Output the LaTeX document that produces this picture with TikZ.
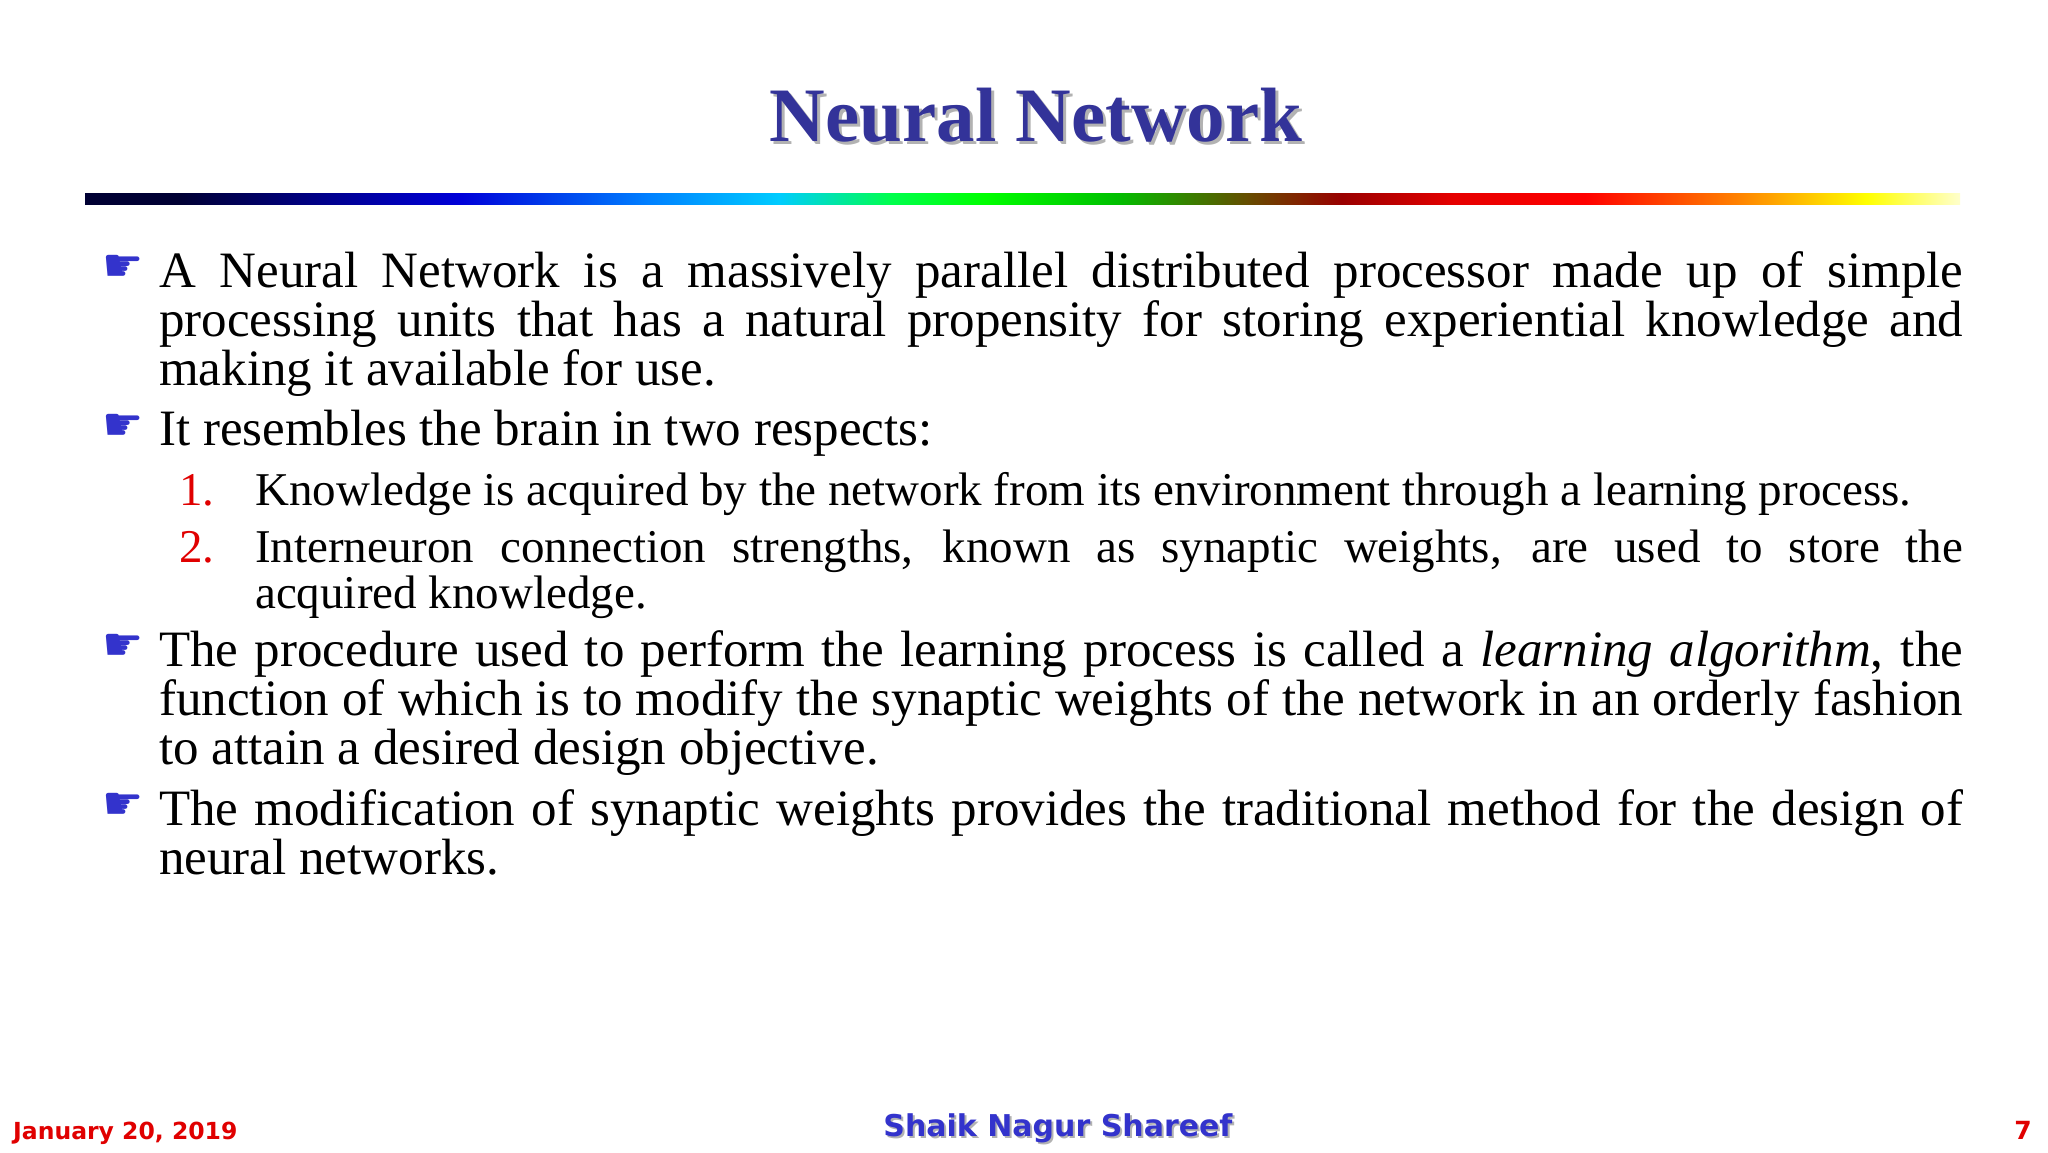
\documentclass[tikz,border=0pt]{standalone}
\usepackage{fontspec}
\setmainfont{Liberation Serif}
\newfontfamily\symf{DejaVu Sans}
\newfontfamily\footf{DejaVu Sans}
\definecolor{ttl}{HTML}{333399}
\definecolor{hand}{HTML}{3333CC}
\definecolor{nred}{HTML}{E00000}
\hyphenpenalty=10000
\pgfdeclarehorizontalshading{rainbow}{100bp}{
color(0bp)=(black!80!blue);
color(25bp)=(black!80!blue);
color(27.5bp)=(black!80!blue);
color(32bp)=(blue!60!black);
color(35bp)=(blue!85!black);
color(40bp)=(blue!50!cyan);
color(43.5bp)=(cyan!80!blue);
color(46.5bp)=(green!70!cyan);
color(49bp)=(green);
color(52.5bp)=(green!75!black);
color(56bp)=(black!50!green!60!red);
color(58.5bp)=(red!60!black);
color(61.5bp)=(red!90!black);
color(65bp)=(red);
color(69bp)=(orange);
color(72.5bp)=(yellow);
color(75bp)=(yellow!20!white);
color(100bp)=(yellow!20!white)}
\tikzset{
 para/.style={anchor=north west,inner sep=0pt,align=justify,font=\fontsize{51}{49}\selectfont},
 sub/.style={anchor=north west,inner sep=0pt,align=justify,font=\fontsize{47}{46}\selectfont},
 num/.style={anchor=base west,inner sep=0pt,text=nred,font=\fontsize{47}{46}\selectfont},
 bul/.style={anchor=base west,inner sep=0pt,text=hand,font=\symf\fontsize{46}{46}\selectfont}
}
\begin{document}
\begin{tikzpicture}[x=1pt,y=1pt]
\useasboundingbox (0,0) rectangle (2048,-1152);
\fill[white] (0,0) rectangle (2048,-1152);
% title
\node[anchor=base,inner sep=0pt,text=black!30,font=\bfseries\fontsize{77}{77}\selectfont] (tsh) at (1039,-144) {Neural Network};
\node[anchor=base,inner sep=0pt,text=ttl,font=\bfseries\fontsize{77}{77}\selectfont] (title) at (1036,-141) {Neural Network};
\shade[shading=rainbow] (85,-193) rectangle (1960,-204);
% bullets
\node[bul] (b1) at (102,-281) {☛};
\node[para,text width=1804pt] (p1) at (159,-247) {\rule{0pt}{40pt}A Neural Network is a massively parallel distributed processor made up of simple\linebreak processing units that has a natural propensity for storing experiential knowledge and\linebreak making it available for use.};
\node[bul] (b2) at (102,-440) {☛};
\node[para,text width=1804pt] (p2) at (159,-405) {\rule{0pt}{40pt}It resembles the brain in two respects:};
\node[num] (n1) at (179,-505) {1.};
\node[sub,text width=1708pt] (s1) at (255,-469) {\rule{0pt}{36pt}Knowledge is acquired by the network from its environment through a learning process.};
\node[num] (n2) at (179,-562) {2.};
\node[sub,text width=1708pt] (s2) at (255,-526) {\rule{0pt}{36pt}Interneuron connection strengths, known as synaptic weights, are used to store the\linebreak acquired knowledge.};
\node[bul] (b3) at (102,-660) {☛};
\node[para,text width=1804pt] (p3) at (159,-626) {\rule{0pt}{40pt}The procedure used to perform the learning process is called a \textit{learning algorithm}, the\linebreak function of which is to modify the synaptic weights of the network in an orderly fashion\linebreak to attain a desired design objective.};
\node[bul] (b4) at (102,-819) {☛};
\node[para,text width=1804pt] (p4) at (159,-785) {\rule{0pt}{40pt}The modification of synaptic weights provides the traditional method for the design of neural networks.};
% footer
\node[anchor=base west,inner sep=0pt,text=nred,font=\footf\bfseries\fontsize{23.5}{25}\selectfont] (date) at (13,-1139) {January 20, 2019};
\node[anchor=base,inner sep=0pt,text=black!30,font=\footf\bfseries\fontsize{30}{30}\selectfont] (ash) at (1060,-1138) {Shaik Nagur Shareef};
\node[anchor=base,inner sep=0pt,text=hand,font=\footf\bfseries\fontsize{30}{30}\selectfont] (auth) at (1058,-1136) {Shaik Nagur Shareef};
\node[anchor=base east,inner sep=0pt,text=nred,font=\footf\bfseries\fontsize{25}{25}\selectfont] (pg) at (2032,-1139) {7};
\end{tikzpicture}
\end{document}
